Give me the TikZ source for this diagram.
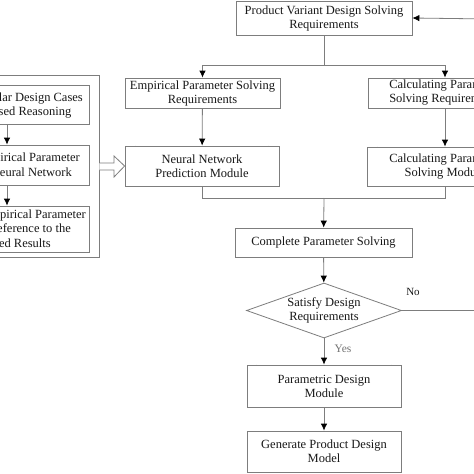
\documentclass[tikz,border=0pt]{standalone}
\usepackage{fontspec}
\setmainfont{Liberation Serif}
\usetikzlibrary{shapes.geometric,arrows.meta}
\definecolor{linegray}{RGB}{125,125,125}
\definecolor{txt}{RGB}{25,25,25}
\tikzset{
  box/.style={draw=linegray, line width=0.8pt, fill=white, inner sep=0pt, align=center, text=txt,
    font=\fontsize{12.5}{14}\selectfont},
  pbox/.style={box, append after command={
     \pgfextra{\draw[linegray, line width=0.8pt]
        ([xshift=#1]\tikzlastnode.north west) -- ([xshift=#1]\tikzlastnode.south west)
        ([xshift=-#1]\tikzlastnode.north east) -- ([xshift=-#1]\tikzlastnode.south east);}}},
  lbl/.style={inner sep=0pt, text=txt, font=\fontsize{12.5}{14}\selectfont},
  arr/.style={draw=linegray, line width=0.8pt, -{Latex[length=7pt,width=6.5pt,black]}},
  ln/.style={draw=linegray, line width=0.8pt},
}
\begin{document}
\begin{tikzpicture}[x=1pt,y=-1pt]
\useasboundingbox (0,0) rectangle (474,474);
\clip (0,0) rectangle (474,474);
\fill[white] (0,0) rectangle (474,474);

% top
\node[box, minimum width=176pt, minimum height=34pt] (top) at (324,18) {Product Variant Design Solving\\Requirements};
\node[box, minimum width=155pt, minimum height=30pt] (emp) at (202.5,93) {Empirical Parameter Solving\\Requirements};
\node[box, minimum width=154pt, minimum height=30pt] (calcreq) at (445,93) {Calculating Parameter\\Solving Requirements};
\node[pbox=11pt, minimum width=154pt, minimum height=40pt] (nn) at (202,166) {Neural Network\\Prediction Module};
\node[pbox=11pt, minimum width=156pt, minimum height=39pt] (cm) at (445,166.5) {Calculating Parameter\\Solving Module};
\node[box, minimum width=177pt, minimum height=29pt] (comp) at (323.5,242.5) {Complete Parameter Solving};
\node[box, diamond, aspect=2.8, minimum width=155pt, minimum height=55pt] (dia) at (324,310.5) {Satisfy Design\\Requirements};
\node[pbox=10pt, minimum width=154pt, minimum height=42pt] (par) at (324,386) {Parametric Design\\Module};
\node[box, minimum width=154pt, minimum height=41pt] (gen) at (324,451.5) {Generate Product Design\\Model};

\coordinate (split) at (324,65);
\coordinate (merge) at (324,198);
\coordinate (fb) at (490,19);

\draw[ln] (top) -- (split);
\draw[arr] (split) -| (emp);
\draw[arr] (split) -| (calcreq);
\draw[arr] (emp) -- (nn);
\draw[arr] (calcreq) -- (cm);
\draw[ln] (nn.south) |- (merge);
\draw[ln] (cm.south) |- (merge);
\draw[arr] (merge) -- (comp);
\draw[arr] (comp) -- (dia);
\draw[arr] (dia) -- (par);
\node[inner sep=0pt, text=black!55, font=\fontsize{11.5}{13}\selectfont] (yes) at (343,349) {Yes};
\draw[arr] (par) -- (gen);
\draw[arr] (dia.east) -| (fb) -- (top.east);
\node[inner sep=0pt, text=txt, font=\fontsize{11}{13}\selectfont] (no) at (413,292) {No};

% left frame
\node[box, minimum width=139pt, minimum height=182pt] (frame) at (29.5,166) {};
\node[box, minimum width=130pt, minimum height=39pt] (b1) at (24,104.5) {};
\node[box, minimum width=130pt, minimum height=40pt] (b2) at (24,165) {};
\node[box, minimum width=130pt, minimum height=46pt] (b3) at (24,229) {};
\coordinate (ax) at (7,0);
\draw[arr] (b1.south -| ax) -- (b2.north -| ax);
\draw[arr] (b2.south -| ax) -- (b3.north -| ax);

\node[lbl, anchor=base east] (t11) at (83,101) {Similar Design Cases};
\node[lbl, anchor=base east] (t12) at (71.5,115.5) {Based Reasoning};
\node[lbl, anchor=base east] (t21) at (80,161) {Empirical Parameter};
\node[lbl, anchor=base east] (t22) at (72,176.5) {Neural Network};
\node[lbl, anchor=base east] (t31) at (86,218) {Empirical Parameter};
\node[lbl, anchor=base east] (t32) at (71,232.5) {Reference to the};
\node[lbl, anchor=base east] (t33) at (51,247) {ed Results};

% hollow block arrow
\draw[linegray, line width=0.8pt, fill=white] (frame.east |- 0,163) -- (114,163) -- (114,156) -- (nn.west) -- (114,177) -- (114,170) -- (frame.east |- 0,170);
\end{tikzpicture}
\end{document}
